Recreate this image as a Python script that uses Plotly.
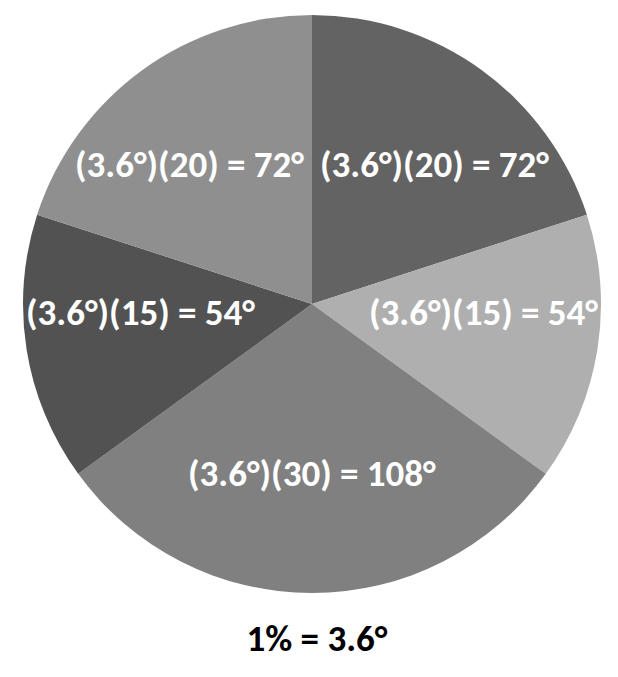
import math
import plotly.graph_objects as go

shares = [20, 15, 30, 15, 20]
slice_colors = ["#636363", "#afafaf", "#808080", "#525252", "#8f8f8f"]
deg_per_pct = 3.6
labels = ["({}°)({}) = {}°".format(deg_per_pct, s, round(s * deg_per_pct)) for s in shares]
title_text = "1% = 3.6°"

font_family = "Calibri, Carlito, 'Open Sans', sans-serif"
W, H = 618, 677

# pie geometry in figure pixels (page body adds an 8px offset when shown)
cx, cy, R = 304, 296, 289

fig = go.Figure(
    go.Pie(
        values=shares,
        textinfo="none",
        hoverinfo="skip",
        marker=dict(colors=slice_colors, line=dict(width=0)),
        sort=False,
        direction="clockwise",
        rotation=0,
        domain=dict(x=[(cx - R) / W, (cx + R) / W], y=[1 - (cy + R) / H, 1 - (cy - R) / H]),
        showlegend=False,
    )
)

# labels sit at each slice's mid angle, pushed sideways a bit for the wide top ones
# and pulled up toward the centre line for the side ones
total = sum(shares)
start = 0
for s, lab in zip(shares, labels):
    mid = math.radians((start + s / 2) / total * 360)
    start += s
    sn, cs = math.sin(mid), math.cos(mid)
    r = 0.585 * R
    side = 0 if abs(sn) < 1e-6 else math.copysign(1, sn)
    px = cx + r * sn + 28 * side * abs(cs)
    py = cy - r * cs - 19 * sn ** 4
    fig.add_annotation(
        x=px / W, y=1 - py / H, xref="paper", yref="paper",
        text=lab, showarrow=False, xanchor="center", yanchor="middle",
        font=dict(family=font_family, size=37, color="white", weight="bold"),
    )

fig.update_layout(
    width=W,
    height=H,
    margin=dict(l=0, r=0, t=0, b=0),
    paper_bgcolor="white",
    plot_bgcolor="white",
    title=dict(
        text=title_text,
        x=309 / W,
        xanchor="center",
        y=(H - 630) / H,
        yanchor="middle",
        font=dict(family=font_family, size=37, color="black", weight="bold"),
    ),
)

fig.write_html("out.html")
